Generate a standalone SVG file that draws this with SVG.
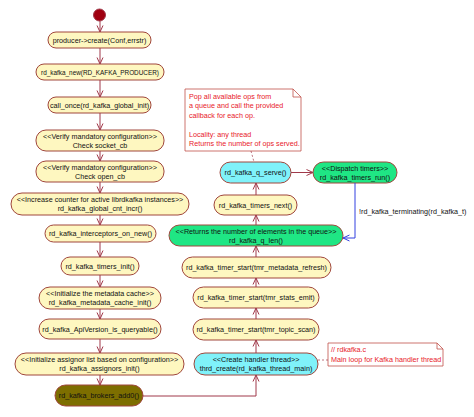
<svg xmlns="http://www.w3.org/2000/svg" width="474" height="417" viewBox="0 0 474 417">
<defs>
<marker id="ar" viewBox="0 0 8 8" refX="7.5" refY="4" markerWidth="8" markerHeight="8" markerUnits="userSpaceOnUse" orient="auto">
<path d="M1,1 L7.5,4 L1,7" fill="none" stroke="#A0394A" stroke-width="1"/>
</marker>
<marker id="ab" viewBox="0 0 8 8" refX="7.5" refY="4" markerWidth="8" markerHeight="8" markerUnits="userSpaceOnUse" orient="auto">
<path d="M1,1 L7.5,4 L1,7" fill="none" stroke="#3340E0" stroke-width="1"/>
</marker>
</defs>
<style>
.n{fill:#FEF7C0;stroke:#A0463C;stroke-width:1}
.c{fill:#7FF2FA;stroke:#A0463C;stroke-width:1}
.g{fill:#1FE684;stroke:#A0463C;stroke-width:1}
.o{fill:#7D6E00;stroke:#A0463C;stroke-width:1}
text{font-family:"Liberation Sans",Arial,sans-serif;font-size:7.2px;fill:#111}
.m{text-anchor:middle}
.nt{fill:#FFFFFF;stroke:#C0504A;stroke-width:0.8}
.rt{fill:#E8202A}
.l{fill:none;stroke:#A0394A;stroke-width:1;marker-end:url(#ar)}
.b{fill:none;stroke:#3340E0;stroke-width:1;marker-end:url(#ab)}
.d{fill:none;stroke:#A0394A;stroke-width:0.7;stroke-dasharray:2,2}
</style>
<g id="start"><circle cx="99.5" cy="15" r="6" fill="#A00010" stroke="#A0394A"/></g>
<g id="n1"><rect class="n" x="48" y="32" width="103" height="16" rx="8"/><text class="m" x="99.5" y="42.5">producer-&gt;create(Conf,errstr)</text></g>
<g id="n2"><rect class="n" x="36" y="64" width="128" height="16" rx="8"/><text class="m" x="100" y="74.5" textLength="118" lengthAdjust="spacingAndGlyphs">rd_kafka_new(RD_KAFKA_PRODUCER)</text></g>
<g id="n3"><rect class="n" x="48" y="97" width="103" height="16" rx="8"/><text class="m" x="99.5" y="107.5">call_once(rd_kafka_global_init)</text></g>
<g id="n4"><rect class="n" x="36" y="130" width="128" height="21" rx="10"/><text class="m" x="100" y="138.5">&lt;&lt;Verify mandatory configuration&gt;&gt;</text><text class="m" x="100" y="147.5">Check socket_cb</text></g>
<g id="n5"><rect class="n" x="36" y="161" width="128" height="21" rx="10"/><text class="m" x="100" y="169.5">&lt;&lt;Verify mandatory configuration&gt;&gt;</text><text class="m" x="100" y="178.5">Check open_cb</text></g>
<g id="n6"><rect class="n" x="11" y="193" width="178" height="22" rx="11"/><text class="m" x="100" y="202">&lt;&lt;Increase counter for active librdkafka instances&gt;&gt;</text><text class="m" x="100" y="211">rd_kafka_global_cnt_incr()</text></g>
<g id="n7"><rect class="n" x="45" y="225" width="111" height="17" rx="8.5"/><text class="m" x="100.5" y="236">rd_kafka_interceptors_on_new()</text></g>
<g id="n8"><rect class="n" x="61" y="257" width="78" height="18" rx="9"/><text class="m" x="100" y="268.5">rd_kafka_timers_init()</text></g>
<g id="n9"><rect class="n" x="39" y="287" width="122" height="22" rx="11"/><text class="m" x="100" y="296">&lt;&lt;Initialize the metadata cache&gt;&gt;</text><text class="m" x="100" y="305">rd_kafka_metadata_cache_init()</text></g>
<g id="n10"><rect class="n" x="39" y="319" width="122" height="20" rx="10"/><text class="m" x="100" y="331.5">rd_kafka_ApiVersion_is_queryable()</text></g>
<g id="n11"><rect class="n" x="15" y="353" width="169" height="22" rx="11"/><text class="m" x="99.5" y="362">&lt;&lt;Initialize assignor list based on configuration&gt;&gt;</text><text class="m" x="99.5" y="371">rd_kafka_assignors_init()</text></g>
<g id="n12"><rect class="o" x="55" y="385" width="88" height="21" rx="10.5"/><text class="m" x="99" y="398">rd_kafka_brokers_add0()</text></g>
<g id="note1"><path class="nt" d="M185,89 H293 L301,97 V151 H185 Z"/><path d="M293,89 V97 H301" fill="none" stroke="#C0504A" stroke-width="0.8"/>
<text class="rt" x="189" y="98.5">Pop all available ops from</text><text class="rt" x="189" y="108">a queue and call the provided</text><text class="rt" x="189" y="117.5">callback for each op.</text><text class="rt" x="189" y="136.5">Locality: any thread</text><text class="rt" x="189" y="146">Returns the number of ops served.</text></g>
<g id="q_serve"><rect class="c" x="220" y="162" width="71" height="21" rx="10.5"/><text class="m" x="255.5" y="175">rd_kafka_q_serve()</text></g>
<g id="dispatch"><rect class="g" x="313" y="162" width="84" height="21" rx="10.5"/><text class="m" x="355" y="170.5">&lt;&lt;Dispatch timers&gt;&gt;</text><text class="m" x="355" y="179.5">rd_kafka_timers_run()</text></g>
<g id="timers_next"><rect class="n" x="214" y="195" width="83" height="20" rx="10"/><text class="m" x="255.5" y="207.5">rd_kafka_timers_next()</text></g>
<g id="q_len"><rect class="g" x="169" y="225" width="174" height="21" rx="10.5"/><text class="m" x="256" y="233.5">&lt;&lt;Returns the number of elements in the queue&gt;&gt;</text><text class="m" x="256" y="242.5">rd_kafka_q_len()</text></g>
<g id="t_meta"><rect class="n" x="182" y="257" width="149" height="21" rx="10.5"/><text class="m" x="256.5" y="270">rd_kafka_timer_start(tmr_metadata_refresh)</text></g>
<g id="t_stats"><rect class="n" x="193" y="287" width="126" height="21" rx="10.5"/><text class="m" x="256" y="300">rd_kafka_timer_start(tmr_stats_emit)</text></g>
<g id="t_topic"><rect class="n" x="193" y="319" width="126" height="21" rx="10.5"/><text class="m" x="256" y="332">rd_kafka_timer_start(tmr_topic_scan)</text></g>
<g id="create"><rect class="c" x="194" y="353" width="124" height="22" rx="11"/><text class="m" x="256" y="362">&lt;&lt;Create handler thread&gt;&gt;</text><text class="m" x="256" y="371">thrd_create(rd_kafka_thread_main)</text></g>
<g id="note2"><path class="nt" d="M328,343 H437 L443,349 V366 H328 Z"/><path d="M437,343 V349 H443" fill="none" stroke="#C0504A" stroke-width="0.8"/>
<text class="rt" x="331" y="351.5">// rdkafka.c</text><text class="rt" x="331" y="361.5">Main loop for Kafka handler thread</text></g>
<g id="connectors">
<path class="l" d="M100,21 V32"/>
<path class="l" d="M100,48 V64"/>
<path class="l" d="M100,80 V97"/>
<path class="l" d="M100,113 V130"/>
<path class="l" d="M100,151 V161"/>
<path class="l" d="M100,182 V193"/>
<path class="l" d="M100,215 V225"/>
<path class="l" d="M100,242 V257"/>
<path class="l" d="M100,275 V287"/>
<path class="l" d="M100,309 V319"/>
<path class="l" d="M100,339 V353"/>
<path class="l" d="M100,375 V385"/>
<path class="l" d="M143,396 H256 V375"/>
<path class="l" d="M256,353 V340"/>
<path class="l" d="M256,319 V308"/>
<path class="l" d="M256,287 V278"/>
<path class="l" d="M256,257 V246"/>
<path class="l" d="M256,225 V215"/>
<path class="l" d="M256,195 V183"/>
<path class="l" d="M291,172.5 H313"/>
<path class="b" d="M355,183 V238 H343"/>
<text x="359" y="214">!rd_kafka_terminating(rd_kafka_t)</text>
<path class="d" d="M251,151 L254,162"/>
<path class="d" d="M318,360 H328"/>
</g>
</svg>
